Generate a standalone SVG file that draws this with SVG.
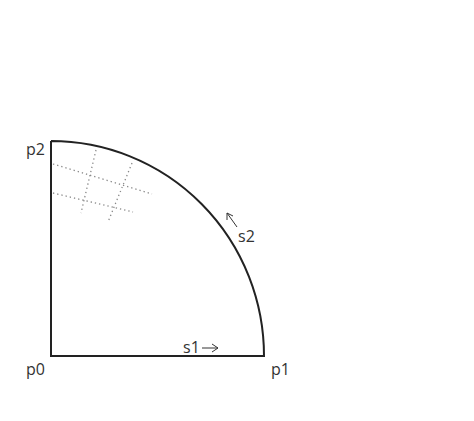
<svg xmlns="http://www.w3.org/2000/svg" width="474" height="421" viewBox="0 0 474 421">
<style>
.lbl{font-family:"Open Sans","Noto Sans","Liberation Sans",sans-serif;font-size:16px;fill:#333}
.edge{fill:none;stroke:#222;stroke-width:2}
.dot{fill:none;stroke:#888;stroke-width:1.3;stroke-dasharray:1.3 3}
.arr{fill:none;stroke:#333;stroke-width:1}
</style>
<rect width="474" height="421" fill="#fff"/>
<g id="connectors">
<path class="edge" d="M51,141 L51,356 L264,356 A213,215 0 0 0 51,141"/>
<path class="dot" d="M53,164 L152,194"/>
<path class="dot" d="M53,193 L133,212"/>
<path class="dot" d="M96,150 L81,213"/>
<path class="dot" d="M132,163 L108,222"/>
<path class="arr" d="M202,348 L218,348 M212,344 L218,348 L212,352"/>
<path class="arr" d="M237,227 L227,213 M227,220 L227,213 L233,216"/>
</g>
<g id="p0"><text class="lbl" x="26" y="375">p0</text></g>
<g id="p1"><text class="lbl" x="271" y="375">p1</text></g>
<g id="p2"><text class="lbl" x="26" y="155">p2</text></g>
<g id="s1"><text class="lbl" x="183" y="353">s1</text></g>
<g id="s2"><text class="lbl" x="238" y="242">s2</text></g>
</svg>
